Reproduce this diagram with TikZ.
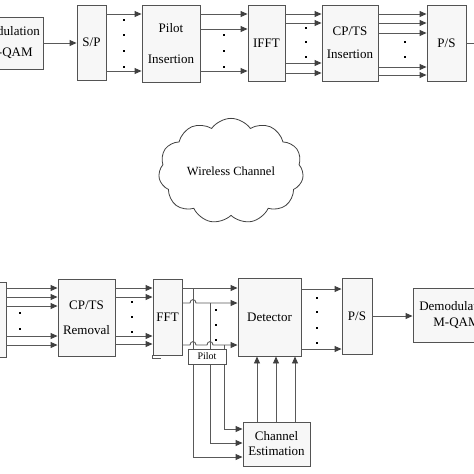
\documentclass[tikz,border=0pt]{standalone}
\usepackage{fontspec}
\setmainfont{Liberation Serif}
\usetikzlibrary{arrows.meta,shapes.symbols}
\begin{document}
\begin{tikzpicture}[x=1pt,y=-1pt,
  blk/.style={draw=gray!65!black, fill=gray!6, line width=0.9pt, inner sep=0pt, align=center},
  bs/.style={font=\fontsize{13}{#1}\selectfont},
  ln/.style={draw=gray!70!black, line width=0.9pt},
  arr/.style={ln, -{Triangle[length=7pt,width=6pt,color=black!75]}},
  sq/.style={fill=black}
]
\path[use as bounding box, clip] (0,0) rectangle (474,474);

% ---------- top row ----------
\node[blk, bs=21, minimum width=67pt, minimum height=52pt] (mod) at (9.5,43) {Modulation\\M-QAM};
\node[blk, bs=15, minimum width=29pt, minimum height=75pt] (sp) at (91.5,42.5) {S/P};
\node[blk, bs=31, minimum width=58pt, minimum height=77pt] (pi) at (171,43.5) {Pilot\\Insertion};
\node[blk, bs=15, minimum width=37pt, minimum height=76pt] (ifft) at (266.5,43) {IFFT};
\node[blk, bs=23, minimum width=56pt, minimum height=76pt] (cpi) at (350,43) {CP/TS\\Insertion};
\node[blk, bs=15, minimum width=39pt, minimum height=76pt] (ps1) at (446.5,43) {P/S};
\coordinate (out1) at (480,43);

\draw[arr] (mod.east) -- (sp.west|-mod.east);
\foreach \y in {14,71} \draw[arr] (sp.east|-0,\y) -- (pi.west|-0,\y);
\foreach \y in {14,29,71} \draw[arr] (pi.east|-0,\y) -- (ifft.west|-0,\y);
\foreach \y in {14,23,63,73} \draw[arr] (ifft.east|-0,\y) -- (cpi.west|-0,\y);
\foreach \y in {14,23,33,67,75} \draw[arr] (cpi.east|-0,\y) -- (ps1.west|-0,\y);
\draw[ln] (ps1.east) -- (out1);

\foreach \y in {20,35,51,67} \fill[sq] (123,\y-1) rectangle (125,\y+1);
\foreach \y in {35,51,67} \fill[sq] (223,\y-1) rectangle (225,\y+1);
\foreach \y in {28,42,57} \fill[sq] (305,\y-1) rectangle (307,\y+1);
\foreach \y in {42,57} \fill[sq] (404,\y-1) rectangle (406,\y+1);

% ---------- channel ----------
\node[cloud, cloud puffs=11, cloud puff arc=110, aspect=1.5, draw=gray!50!black, line width=0.8pt, fill=white, minimum width=145pt, minimum height=95pt, font=\fontsize{12.5}{14}\selectfont] (cl) at (231,171) {Wireless Channel};

% ---------- bottom row ----------
\node[blk, minimum width=31pt, minimum height=75pt] (lb) at (-9.5,319.5) {};
\node[blk, bs=25, minimum width=57pt, minimum height=77pt] (cpr) at (86.5,317.5) {CP/TS\\Removal};
\node[blk, bs=15, minimum width=29pt, minimum height=76pt] (fft) at (167.5,317) {FFT};
\node[blk, bs=15, minimum width=63pt, minimum height=78pt] (det) at (269.5,317) {Detector};
\node[blk, bs=15, minimum width=30pt, minimum height=76pt] (ps2) at (357,316) {P/S};
\node[blk, bs=16, minimum width=87pt, minimum height=54pt] (dem) at (456.5,315) {Demodulation\\M-QAM};
\node[blk, bs=15, minimum width=67pt, minimum height=44pt] (ce) at (276.5,444) {Channel\\Estimation};

\foreach \y in {288,297,306,336,345} \draw[arr] (lb.east|-0,\y) -- (cpr.west|-0,\y);
\foreach \y in {288,297,336,344} \draw[arr] (cpr.east|-0,\y) -- (fft.west|-0,\y);
\draw[ln] (fft.south west) -- ++(0,3) -- ++(8,0);

% FFT -> Detector with line hops
\coordinate (j1) at (193,288);
\coordinate (j2) at (210,303);
\coordinate (j3) at (224,345);
\draw[arr] (fft.east|-0,288) -- (det.west|-0,288);
\draw[arr] (fft.east|-0,303) -- (190,303) .. controls (190,298.5) and (196,298.5) .. (196,303) -- (det.west|-0,303);
\draw[arr] (fft.east|-0,345) -- (190,345) .. controls (190,340.5) and (196,340.5) .. (196,345)
  -- (207,345) .. controls (207,340.5) and (213,340.5) .. (213,345) -- (det.west|-0,345);

\draw[arr] (j1) |- (ce.west|-0,457);
\draw[arr] (j2) |- (ce.west|-0,443);
\draw[arr] (j3) |- (ce.west|-0,429);
\node[draw=gray!65!black, fill=white, line width=0.8pt, minimum width=38pt, minimum height=15pt, inner sep=0pt, font=\fontsize{10}{11}\selectfont] (pil) at (207,356.5) {Pilot};

\foreach \x in {257,276,295} \draw[arr] (ce.north-|\x,0) -- (det.south-|\x,0);

\foreach \y in {289,349} \draw[arr] (det.east|-0,\y) -- (ps2.west|-0,\y);
\draw[arr] (ps2.east) -- (dem.west|-ps2.east);

\foreach \y in {313,329} \fill[sq] (19,\y-1) rectangle (21,\y+1);
\foreach \y in {302,317,332} \fill[sq] (131,\y-1) rectangle (133,\y+1);
\foreach \y in {310,325,340} \fill[sq] (215,\y-1) rectangle (217,\y+1);
\foreach \y in {298,312,328,343} \fill[sq] (316,\y-1) rectangle (318,\y+1);
\end{tikzpicture}
\end{document}
